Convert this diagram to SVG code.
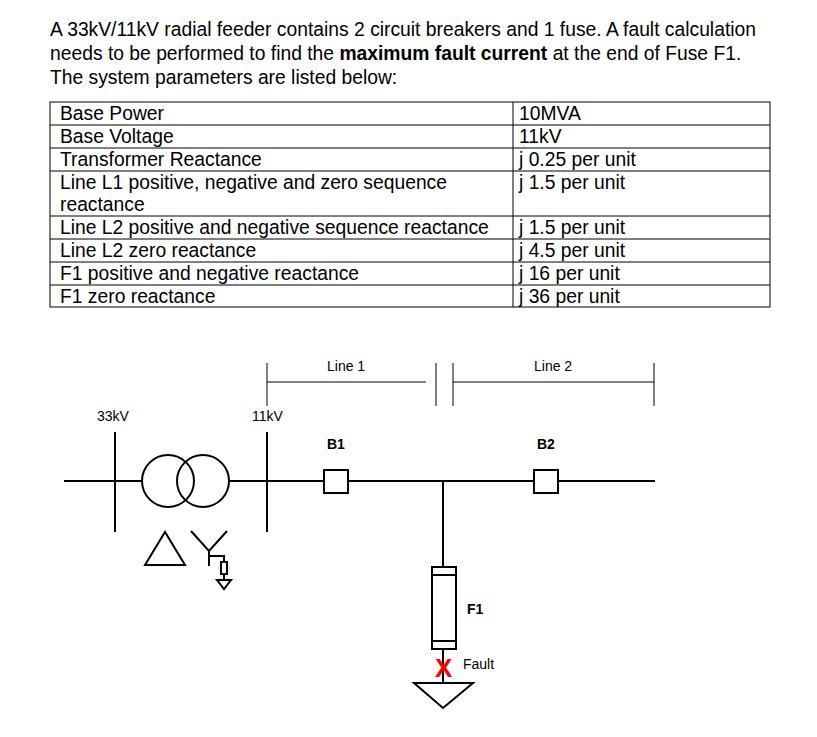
<svg xmlns="http://www.w3.org/2000/svg" width="817" height="737" viewBox="0 0 817 737">
<style>
text{font-family:"Liberation Sans",Arial,sans-serif;fill:#000}
.p{font-size:19.3px}
.s{font-size:14px}
.b{font-weight:bold}
.l{stroke:#000;stroke-width:2;fill:none}
.t{stroke:#000;stroke-width:1;fill:none}
</style>
<rect width="817" height="737" fill="#fff"/>
<text class="p" x="50" y="36">A 33kV/11kV radial feeder contains 2 circuit breakers and 1 fuse. A fault calculation</text>
<text class="p" x="50" y="60">needs to be performed to find the <tspan class="b">maximum fault current</tspan> at the end of Fuse F1.</text>
<text class="p" x="50" y="84">The system parameters are listed below:</text>
<g id="table">
<rect class="t" x="50" y="102" width="720" height="205"/>
<line class="t" x1="513" y1="102" x2="513" y2="307"/>
<path class="t" d="M50 125H770M50 148H770M50 171H770M50 216H770M50 239H770M50 262H770M50 285H770"/>
<g class="p">
<text x="60" y="120">Base Power</text><text x="519" y="120">10MVA</text>
<text x="60" y="143">Base Voltage</text><text x="519" y="143">11kV</text>
<text x="60" y="166">Transformer Reactance</text><text x="519" y="166">j 0.25 per unit</text>
<text x="60" y="189">Line L1 positive, negative and zero sequence</text><text x="519" y="189">j 1.5 per unit</text>
<text x="60" y="211">reactance</text>
<text x="60" y="234">Line L2 positive and negative sequence reactance</text><text x="519" y="234">j 1.5 per unit</text>
<text x="60" y="257">Line L2 zero reactance</text><text x="519" y="257">j 4.5 per unit</text>
<text x="60" y="280">F1 positive and negative reactance</text><text x="519" y="280">j 16 per unit</text>
<text x="60" y="303">F1 zero reactance</text><text x="519" y="303">j 36 per unit</text>
</g>
</g>
<g id="connectors">
<path class="l" d="M64 481H142M229 481H323M348 481H534M558 481H655M443 481V567M443 649V683"/>
<path class="t" d="M267 382H426M453 382H654"/>
</g>
<g id="bus33"><line class="l" x1="115" y1="432" x2="115" y2="532"/><text class="s" x="97" y="421">33kV</text></g>
<g id="transformer">
<circle class="l" cx="168" cy="481" r="26"/><circle class="l" cx="203" cy="481" r="26"/>
<polygon class="l" points="145,565 185,565 165,532"/>
<path class="l" d="M191 531L209 551L227 531M209 551V566M209 556H224V562"/>
<rect class="l" x="221" y="562" width="6" height="12"/>
<path class="l" d="M224 574V580"/>
<polygon class="l" points="217,580 231,580 224,589"/>
</g>
<g id="bus11"><line class="l" x1="267" y1="432" x2="267" y2="532"/><text class="s" x="252" y="421">11kV</text>
<line class="t" x1="267" y1="363" x2="267" y2="406"/></g>
<g id="line1"><text class="s" x="327" y="371">Line 1</text>
<line class="t" x1="436" y1="363" x2="436" y2="406"/></g>
<g id="line2"><text class="s" x="534" y="371">Line 2</text>
<line class="t" x1="453" y1="363" x2="453" y2="406"/><line class="t" x1="654" y1="363" x2="654" y2="406"/></g>
<g id="B1"><rect class="l" x="324" y="470" width="24" height="23" fill="#fff"/><text class="s b" x="327" y="449">B1</text></g>
<g id="B2"><rect class="l" x="534" y="470" width="24" height="23" fill="#fff"/><text class="s b" x="537" y="449">B2</text></g>
<g id="F1">
<rect class="l" x="432" y="567" width="24" height="82"/>
<path class="l" d="M432 575H456M432 641H456"/>
<text class="s b" x="467" y="614">F1</text>
</g>
<g id="fault">
<text x="435" y="677" style="font-size:26px;font-weight:bold;fill:#f00">X</text>
<text class="s" x="463" y="669">Fault</text>
<polygon class="l" points="414,683 473,683 443,708"/>
</g>
</svg>
